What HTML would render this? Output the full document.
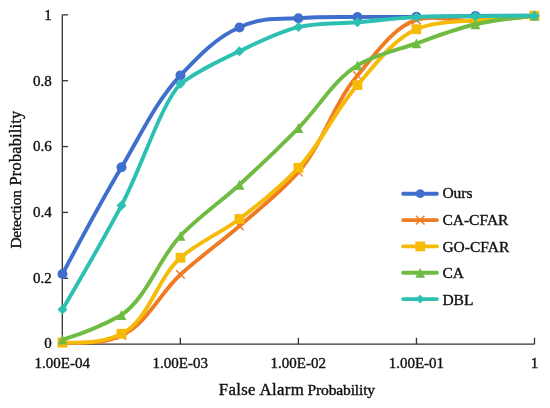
<!DOCTYPE html>
<html lang="en"><head><meta charset="utf-8"><title>Detection Probability vs False Alarm Probability</title>
<style>
html,body{margin:0;padding:0;background:#fff;}
body{width:550px;height:408px;position:relative;overflow:hidden;}
text{font-family:"Liberation Serif","Times New Roman",serif;fill:#111111;stroke:#111111;stroke-width:0.38px;}
.t15{font-size:15px;}
.tl{font-size:15.5px;}
.t16{font-size:16px;}
</style></head><body>
<svg width="550" height="408" viewBox="0 0 550 408" style="position:absolute;left:0;top:0;filter:blur(0.35px)">
<rect width="550" height="408" fill="#ffffff"/>
<path d="M62.30 14.85 L62.30 344.15 L534.50 344.15" fill="none" stroke="#333333" stroke-width="1.3"/>
<path d="M62.30 344.15 L68.10 344.15" stroke="#333333" stroke-width="1.3"/>
<path d="M62.30 278.29 L68.10 278.29" stroke="#333333" stroke-width="1.3"/>
<path d="M62.30 212.43 L68.10 212.43" stroke="#333333" stroke-width="1.3"/>
<path d="M62.30 146.57 L68.10 146.57" stroke="#333333" stroke-width="1.3"/>
<path d="M62.30 80.71 L68.10 80.71" stroke="#333333" stroke-width="1.3"/>
<path d="M62.30 14.85 L68.10 14.85" stroke="#333333" stroke-width="1.3"/>
<path d="M62.30 344.15 L62.30 337.75" stroke="#333333" stroke-width="1.3"/>
<path d="M180.35 344.15 L180.35 337.75" stroke="#333333" stroke-width="1.3"/>
<path d="M298.40 344.15 L298.40 337.75" stroke="#333333" stroke-width="1.3"/>
<path d="M416.45 344.15 L416.45 337.75" stroke="#333333" stroke-width="1.3"/>
<path d="M534.50 344.15 L534.50 337.75" stroke="#333333" stroke-width="1.3"/>
<path d="M62.50 273.97 C81.56 238.06 100.62 202.15 121.49 167.31 C140.18 136.09 155.73 101.48 180.47 75.38 C197.68 57.23 216.80 36.73 239.46 27.53 C259.12 17.30 278.79 18.91 298.45 18.32 C318.00 16.59 337.77 17.25 357.44 17.00 C377.10 16.76 396.76 17.00 416.42 16.84 C436.09 16.67 455.75 16.21 475.41 16.02 C495.07 15.82 514.74 15.76 534.40 15.69" fill="none" stroke="#406ECD" stroke-width="3.9" stroke-linecap="round" stroke-linejoin="round"/>
<circle cx="62.50" cy="273.97" r="5.00" fill="#406ECD"/>
<circle cx="121.49" cy="167.31" r="5.00" fill="#406ECD"/>
<circle cx="180.47" cy="75.38" r="5.00" fill="#406ECD"/>
<circle cx="239.46" cy="27.53" r="5.00" fill="#406ECD"/>
<circle cx="298.45" cy="18.32" r="5.00" fill="#406ECD"/>
<circle cx="357.44" cy="17.00" r="5.00" fill="#406ECD"/>
<circle cx="416.42" cy="16.84" r="5.00" fill="#406ECD"/>
<circle cx="475.41" cy="16.02" r="5.00" fill="#406ECD"/>
<circle cx="534.40" cy="15.69" r="5.00" fill="#406ECD"/>
<path d="M62.50 342.94 C82.16 342.94 101.83 344.23 121.49 335.38 C146.06 324.90 159.68 293.58 180.47 274.53 C199.22 257.36 220.23 242.68 239.46 226.02 C259.59 208.58 281.18 192.03 298.45 172.08 C322.90 143.84 333.24 104.04 357.44 75.55 C374.77 55.13 392.51 27.51 416.42 19.96 C433.83 14.47 455.79 21.66 475.41 20.95 C495.11 20.24 514.76 17.96 534.40 15.69" fill="none" stroke="#EF7B24" stroke-width="3.9" stroke-linecap="round" stroke-linejoin="round"/>
<path d="M58.20 338.64 L66.80 347.24 M58.20 347.24 L66.80 338.64" stroke="#EF7B24" stroke-width="1.4" fill="none"/>
<path d="M117.19 331.08 L125.79 339.68 M117.19 339.68 L125.79 331.08" stroke="#EF7B24" stroke-width="1.4" fill="none"/>
<path d="M176.17 270.23 L184.78 278.83 M176.17 278.83 L184.78 270.23" stroke="#EF7B24" stroke-width="1.4" fill="none"/>
<path d="M235.16 221.72 L243.76 230.32 M235.16 230.32 L243.76 221.72" stroke="#EF7B24" stroke-width="1.4" fill="none"/>
<path d="M294.15 167.78 L302.75 176.38 M294.15 176.38 L302.75 167.78" stroke="#EF7B24" stroke-width="1.4" fill="none"/>
<path d="M353.14 71.25 L361.74 79.85 M353.14 79.85 L361.74 71.25" stroke="#EF7B24" stroke-width="1.4" fill="none"/>
<path d="M412.12 15.66 L420.72 24.26 M412.12 24.26 L420.72 15.66" stroke="#EF7B24" stroke-width="1.4" fill="none"/>
<path d="M471.11 16.65 L479.71 25.25 M471.11 25.25 L479.71 16.65" stroke="#EF7B24" stroke-width="1.4" fill="none"/>
<path d="M530.10 11.39 L538.70 19.99 M530.10 19.99 L538.70 11.39" stroke="#EF7B24" stroke-width="1.4" fill="none"/>
<path d="M62.50 342.61 C82.16 342.61 101.83 343.56 121.49 333.73 C148.58 321.09 156.71 278.64 180.47 257.76 C197.92 242.43 220.69 233.06 239.46 218.95 C260.22 203.34 280.77 186.65 298.45 167.80 C321.46 143.28 335.04 110.28 357.44 85.08 C375.35 64.93 392.67 39.47 416.42 29.17 C433.88 21.60 455.66 22.21 475.41 19.96 C494.98 17.73 514.69 16.71 534.40 15.69" fill="none" stroke="#F5BB08" stroke-width="3.9" stroke-linecap="round" stroke-linejoin="round"/>
<rect x="57.60" y="337.71" width="9.80" height="9.80" fill="#F5BB08"/>
<rect x="116.59" y="328.83" width="9.80" height="9.80" fill="#F5BB08"/>
<rect x="175.57" y="252.86" width="9.80" height="9.80" fill="#F5BB08"/>
<rect x="234.56" y="214.05" width="9.80" height="9.80" fill="#F5BB08"/>
<rect x="293.55" y="162.90" width="9.80" height="9.80" fill="#F5BB08"/>
<rect x="352.54" y="80.18" width="9.80" height="9.80" fill="#F5BB08"/>
<rect x="411.52" y="24.27" width="9.80" height="9.80" fill="#F5BB08"/>
<rect x="470.51" y="15.06" width="9.80" height="9.80" fill="#F5BB08"/>
<rect x="529.50" y="10.79" width="9.80" height="9.80" fill="#F5BB08"/>
<path d="M62.50 339.65 C82.16 333.75 101.83 326.00 121.49 314.99 C147.63 296.92 157.92 259.56 180.47 235.89 C198.32 217.15 220.24 202.27 239.46 184.74 C259.61 166.36 279.26 147.38 298.45 128.01 C318.63 107.63 333.61 79.97 357.44 65.35 C374.87 54.65 396.61 50.21 416.42 43.31 C435.94 36.52 455.35 28.87 475.41 24.24 C494.70 19.79 514.55 17.74 534.40 15.69" fill="none" stroke="#70BC42" stroke-width="3.9" stroke-linecap="round" stroke-linejoin="round"/>
<path d="M62.50 334.75 L67.40 344.55 L57.60 344.55Z" fill="#70BC42"/>
<path d="M121.49 310.09 L126.39 319.89 L116.59 319.89Z" fill="#70BC42"/>
<path d="M180.47 230.99 L185.38 240.79 L175.57 240.79Z" fill="#70BC42"/>
<path d="M239.46 179.84 L244.36 189.64 L234.56 189.64Z" fill="#70BC42"/>
<path d="M298.45 123.11 L303.35 132.91 L293.55 132.91Z" fill="#70BC42"/>
<path d="M357.44 60.45 L362.34 70.25 L352.54 70.25Z" fill="#70BC42"/>
<path d="M416.42 38.41 L421.32 48.21 L411.52 48.21Z" fill="#70BC42"/>
<path d="M475.41 19.34 L480.31 29.14 L470.51 29.14Z" fill="#70BC42"/>
<path d="M534.40 10.79 L539.30 20.59 L529.50 20.59Z" fill="#70BC42"/>
<path d="M62.50 309.39 C82.70 275.03 102.90 240.67 121.49 205.46 C142.52 165.62 160.81 104.41 180.47 83.77 C200.14 69.61 219.22 60.86 239.46 51.21 C258.61 42.07 278.00 31.80 298.45 27.03 C317.43 22.61 337.78 23.91 357.44 22.26 C377.10 20.62 396.73 18.18 416.42 17.17 C436.05 16.16 455.75 16.43 475.41 16.18 C495.07 15.93 514.74 15.81 534.40 15.69" fill="none" stroke="#2BC0B1" stroke-width="3.9" stroke-linecap="round" stroke-linejoin="round"/>
<path d="M62.50 304.39 L67.50 309.39 L62.50 314.39 L57.50 309.39Z" fill="#2BC0B1"/>
<path d="M121.49 200.46 L126.49 205.46 L121.49 210.46 L116.49 205.46Z" fill="#2BC0B1"/>
<path d="M180.47 78.77 L185.47 83.77 L180.47 88.77 L175.47 83.77Z" fill="#2BC0B1"/>
<path d="M239.46 46.21 L244.46 51.21 L239.46 56.21 L234.46 51.21Z" fill="#2BC0B1"/>
<path d="M298.45 22.03 L303.45 27.03 L298.45 32.03 L293.45 27.03Z" fill="#2BC0B1"/>
<path d="M357.44 17.26 L362.44 22.26 L357.44 27.26 L352.44 22.26Z" fill="#2BC0B1"/>
<path d="M416.42 12.17 L421.42 17.17 L416.42 22.17 L411.42 17.17Z" fill="#2BC0B1"/>
<path d="M475.41 11.18 L480.41 16.18 L475.41 21.18 L470.41 16.18Z" fill="#2BC0B1"/>
<path d="M534.40 10.69 L539.40 15.69 L534.40 20.69 L529.40 15.69Z" fill="#2BC0B1"/>
<path d="M403.2 193.70 L436.9 193.70" stroke="#406ECD" stroke-width="3.9" stroke-linecap="round"/>
<circle cx="420.20" cy="193.70" r="4.40" fill="#406ECD"/>
<text x="442.4" y="198.30" class="tl">Ours</text>
<path d="M403.2 220.10 L436.9 220.10" stroke="#EF7B24" stroke-width="3.9" stroke-linecap="round"/>
<path d="M415.90 215.80 L424.50 224.40 M415.90 224.40 L424.50 215.80" stroke="#EF7B24" stroke-width="1.4" fill="none"/>
<text x="442.4" y="225.10" class="tl">CA-CFAR</text>
<path d="M403.2 246.40 L436.9 246.40" stroke="#F5BB08" stroke-width="3.9" stroke-linecap="round"/>
<rect x="415.30" y="241.50" width="9.80" height="9.80" fill="#F5BB08"/>
<text x="442.4" y="251.70" class="tl">GO-CFAR</text>
<path d="M403.2 272.80 L436.9 272.80" stroke="#70BC42" stroke-width="3.9" stroke-linecap="round"/>
<path d="M420.20 267.90 L425.10 277.70 L415.30 277.70Z" fill="#70BC42"/>
<text x="442.4" y="278.20" class="tl">CA</text>
<path d="M403.2 299.10 L436.9 299.10" stroke="#2BC0B1" stroke-width="3.9" stroke-linecap="round"/>
<path d="M420.20 294.70 L424.60 299.10 L420.20 303.50 L415.80 299.10Z" fill="#2BC0B1"/>
<text x="442.4" y="304.50" class="tl">DBL</text>
<text x="51.8" y="348.40" class="t15" text-anchor="end">0</text>
<text x="51.8" y="282.54" class="t15" text-anchor="end">0.2</text>
<text x="51.8" y="216.68" class="t15" text-anchor="end">0.4</text>
<text x="51.8" y="150.92" class="t15" text-anchor="end">0.6</text>
<text x="51.8" y="85.81" class="t15" text-anchor="end">0.8</text>
<text x="51.8" y="20.30" class="t15" text-anchor="end">1</text>
<text x="62.20" y="368.2" class="t15" text-anchor="middle">1.00E-04</text>
<text x="180.25" y="368.2" class="t15" text-anchor="middle">1.00E-03</text>
<text x="298.30" y="368.2" class="t15" text-anchor="middle">1.00E-02</text>
<text x="416.35" y="368.2" class="t15" text-anchor="middle">1.00E-01</text>
<text x="534.40" y="368.2" class="t15" text-anchor="middle">1</text>
<text y="394.7" style="font-size:16.8px"><tspan x="218.7" textLength="85.0" lengthAdjust="spacing">False Alarm</tspan> <tspan x="307.5" textLength="67.6" lengthAdjust="spacing" style="font-size:15.6px">Probability</tspan></text>
<text transform="translate(21.2 248.6) rotate(-90)" style="font-size:15.4px"><tspan x="0" textLength="58.5" lengthAdjust="spacing">Detection</tspan> <tspan x="63.15" textLength="74.75" lengthAdjust="spacing" style="font-size:16.4px">Probability</tspan></text>
</svg>
</body></html>
